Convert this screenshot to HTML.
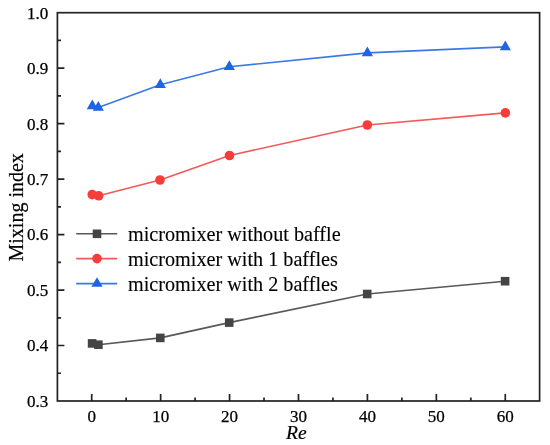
<!DOCTYPE html>
<html><head><meta charset="utf-8"><style>
html,body{margin:0;padding:0;background:#fff;width:550px;height:445px;overflow:hidden}
svg{display:block;filter:blur(0.35px)}
</style></head><body>
<svg width="550" height="445" viewBox="0 0 550 445">
<rect width="550" height="445" fill="#fff"/>
<path d="M91.70 401.0V394.0 M126.16 401.0V397.4 M160.63 401.0V394.0 M195.09 401.0V397.4 M229.56 401.0V394.0 M264.02 401.0V397.4 M298.49 401.0V394.0 M332.95 401.0V397.4 M367.42 401.0V394.0 M401.88 401.0V397.4 M436.35 401.0V394.0 M470.81 401.0V397.4 M505.28 401.0V394.0 M57.4 373.26H61.0 M57.4 345.52H64.4 M57.4 317.79H61.0 M57.4 290.05H64.4 M57.4 262.31H61.0 M57.4 234.58H64.4 M57.4 206.84H61.0 M57.4 179.11H64.4 M57.4 151.38H61.0 M57.4 123.64H64.4 M57.4 95.91H61.0 M57.4 68.17H64.4 M57.4 40.44H61.0" stroke="#222" stroke-width="1.7" fill="none"/>
<rect x="57.4" y="12.7" width="482.20" height="388.30" fill="none" stroke="#222" stroke-width="1.7"/>
<polyline points="92.10,343.40 98.40,344.70 160.30,337.90 229.20,322.60 367.20,294.00 505.10,281.20" fill="none" stroke="#585858" stroke-width="1.6" stroke-linejoin="round"/>
<rect x="87.80" y="339.10" width="8.6" height="8.6" fill="#444444"/>
<rect x="94.10" y="340.40" width="8.6" height="8.6" fill="#444444"/>
<rect x="156.00" y="333.60" width="8.6" height="8.6" fill="#444444"/>
<rect x="224.90" y="318.30" width="8.6" height="8.6" fill="#444444"/>
<rect x="362.90" y="289.70" width="8.6" height="8.6" fill="#444444"/>
<rect x="500.80" y="276.90" width="8.6" height="8.6" fill="#444444"/>
<polyline points="92.20,194.60 98.70,195.80 160.00,180.00 229.50,155.50 367.30,125.00 505.40,112.90" fill="none" stroke="#f55858" stroke-width="1.6" stroke-linejoin="round"/>
<circle cx="92.20" cy="194.60" r="4.8" fill="#f83b3b"/>
<circle cx="98.70" cy="195.80" r="4.8" fill="#f83b3b"/>
<circle cx="160.00" cy="180.00" r="4.8" fill="#f83b3b"/>
<circle cx="229.50" cy="155.50" r="4.8" fill="#f83b3b"/>
<circle cx="367.30" cy="125.00" r="4.8" fill="#f83b3b"/>
<circle cx="505.40" cy="112.90" r="4.8" fill="#f83b3b"/>
<polyline points="92.30,106.00 98.30,107.40 160.30,84.70 229.30,66.70 367.40,52.90 505.30,46.90" fill="none" stroke="#3b78e6" stroke-width="1.6" stroke-linejoin="round"/>
<polygon points="92.30,99.53 97.90,109.23 86.70,109.23" fill="#1f63e6"/>
<polygon points="98.30,100.93 103.90,110.63 92.70,110.63" fill="#1f63e6"/>
<polygon points="160.30,78.23 165.90,87.93 154.70,87.93" fill="#1f63e6"/>
<polygon points="229.30,60.23 234.90,69.93 223.70,69.93" fill="#1f63e6"/>
<polygon points="367.40,46.43 373.00,56.13 361.80,56.13" fill="#1f63e6"/>
<polygon points="505.30,40.43 510.90,50.13 499.70,50.13" fill="#1f63e6"/>
<g font-family="Liberation Serif, serif" font-size="17" fill="#000" stroke="#000" stroke-width="0.25"><text x="91.70" y="422.2" text-anchor="middle">0</text><text x="160.63" y="422.2" text-anchor="middle">10</text><text x="229.56" y="422.2" text-anchor="middle">20</text><text x="298.49" y="422.2" text-anchor="middle">30</text><text x="367.42" y="422.2" text-anchor="middle">40</text><text x="436.35" y="422.2" text-anchor="middle">50</text><text x="505.28" y="422.2" text-anchor="middle">60</text><text x="48.2" y="406.89" text-anchor="end">0.3</text><text x="48.2" y="351.42" text-anchor="end">0.4</text><text x="48.2" y="295.95" text-anchor="end">0.5</text><text x="48.2" y="240.48" text-anchor="end">0.6</text><text x="48.2" y="185.01" text-anchor="end">0.7</text><text x="48.2" y="129.54" text-anchor="end">0.8</text><text x="48.2" y="74.07" text-anchor="end">0.9</text><text x="48.2" y="18.60" text-anchor="end">1.0</text></g>
<path d="M76.2 233.8H117.2" stroke="#585858" stroke-width="1.6"/><rect x="92.70" y="229.50" width="8.6" height="8.6" fill="#444444"/><text x="128" y="241.30" font-family="Liberation Serif, serif" font-size="20.2" fill="#000" stroke="#000" stroke-width="0.12">micromixer without baffle</text><path d="M76.2 258.6H117.2" stroke="#f55858" stroke-width="1.6"/><circle cx="97.00" cy="258.60" r="4.8" fill="#f83b3b"/><text x="128" y="266.10" font-family="Liberation Serif, serif" font-size="20.2" fill="#000" stroke="#000" stroke-width="0.12">micromixer with 1 baffles</text><path d="M76.2 283.6H117.2" stroke="#3b78e6" stroke-width="1.6"/><polygon points="97.00,277.13 102.60,286.83 91.40,286.83" fill="#1f63e6"/><text x="128" y="291.10" font-family="Liberation Serif, serif" font-size="20.2" fill="#000" stroke="#000" stroke-width="0.12">micromixer with 2 baffles</text>
<text x="296.4" y="439.3" text-anchor="middle" font-family="Liberation Serif, serif" font-style="italic" font-size="19.5" stroke="#000" stroke-width="0.2">Re</text>
<text transform="translate(23.4 207.3) rotate(-90)" text-anchor="middle" font-family="Liberation Serif, serif" font-size="20" stroke="#000" stroke-width="0.2">Mixing index</text>
</svg>
</body></html>
